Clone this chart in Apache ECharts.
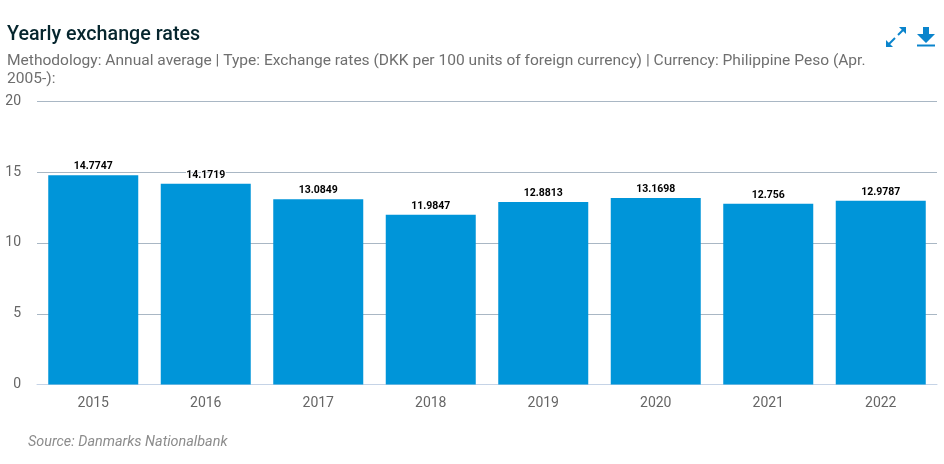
<!DOCTYPE html>
<html>
<head>
<meta charset="utf-8">
<style>html,body{margin:0;padding:0;background:#fff}#chart{width:944px;height:464px}</style>
<script src="https://cdn.jsdelivr.net/npm/echarts@6/dist/echarts.min.js"></script>
</head>
<body>
<div id="chart"></div>
<script>
const years = ['2015','2016','2017','2018','2019','2020','2021','2022'];
const rates = [14.7747,14.1719,13.0849,11.9847,12.8813,13.1698,12.756,12.9787];
const rateLabels = ['14.7747','14.1719','13.0849','11.9847','12.8813','13.1698','12.756','12.9787'];
const titleText = 'Yearly exchange rates';
const subtitleText = 'Methodology: Annual average | Type: Exchange rates (DKK per 100 units of foreign currency) | Currency: Philippine Peso (Apr.\n2005-):';
const sourceText = 'Source: Danmarks Nationalbank';

const FONT = 'Roboto';
const BLUE = '#0095d9';
const ICON = '#0a84cc';

const chart = echarts.init(document.getElementById('chart'), null, {renderer:'canvas'});
chart.setOption({
  animation:false,
  backgroundColor:'#fff',
  textStyle:{fontFamily:FONT},
  grid:{left:37,right:7,top:101.2,height:283.4},
  xAxis:{
    type:'category',
    data:years,
    axisTick:{show:false},
    axisLine:{lineStyle:{color:'#c5d3e6',width:1}},
    axisLabel:{color:'#666666',fontSize:14,fontFamily:FONT,margin:11.5}
  },
  yAxis:{
    type:'value',
    min:0,max:20,interval:5,
    axisLine:{show:false},
    axisTick:{show:false},
    splitLine:{lineStyle:{color:'#a9b7c4',width:1}},
    axisLabel:{color:'#666666',fontSize:14,fontFamily:FONT,margin:16,padding:[4,0,0,0]}
  },
  series:[{
    type:'bar',
    data:rates,
    barWidth:'80%',
    itemStyle:{color:BLUE},
    label:{
      show:true,
      position:'top',
      distance:3,
      color:'#000',
      fontSize:10.5,
      fontWeight:'bold',
      fontFamily:FONT,
      textBorderColor:'#fff',
      textBorderWidth:2,
      formatter:p=>rateLabels[p.dataIndex]
    }
  }],
  graphic:[
    {type:'text',left:7,top:25,style:{text:titleText,fontSize:19.7,fontWeight:500,fontFamily:FONT,fill:'#06262e'}},
    {type:'text',left:7,top:52,style:{text:subtitleText,fontSize:15.55,lineHeight:18,fontFamily:FONT,fill:'#6f6f6f'}},
    {type:'text',left:28,top:435,style:{text:sourceText,fontSize:14.4,fontStyle:'italic',fontFamily:FONT,fill:'#8c8c8c'}},
    // expand control
    {type:'group',x:886,y:27,children:[
      {type:'line',shape:{x1:3,y1:17,x2:9,y2:11},style:{stroke:ICON,lineWidth:2}},
      {type:'polygon',shape:{points:[[0,20],[0,13],[7,20]]},style:{fill:ICON}},
      {type:'line',shape:{x1:12,y1:8,x2:18,y2:2},style:{stroke:ICON,lineWidth:2}},
      {type:'polygon',shape:{points:[[20,0],[20,7],[13,0]]},style:{fill:ICON}}
    ]},
    // download control
    {type:'group',x:917,y:27,children:[
      {type:'polygon',shape:{points:[[6,0],[12,0],[12,7],[18,7],[9,16],[0,7],[6,7]]},style:{fill:ICON}},
      {type:'rect',shape:{x:0,y:17.5,width:18,height:2},style:{fill:ICON}}
    ]}
  ]
});
</script>
</body>
</html>
